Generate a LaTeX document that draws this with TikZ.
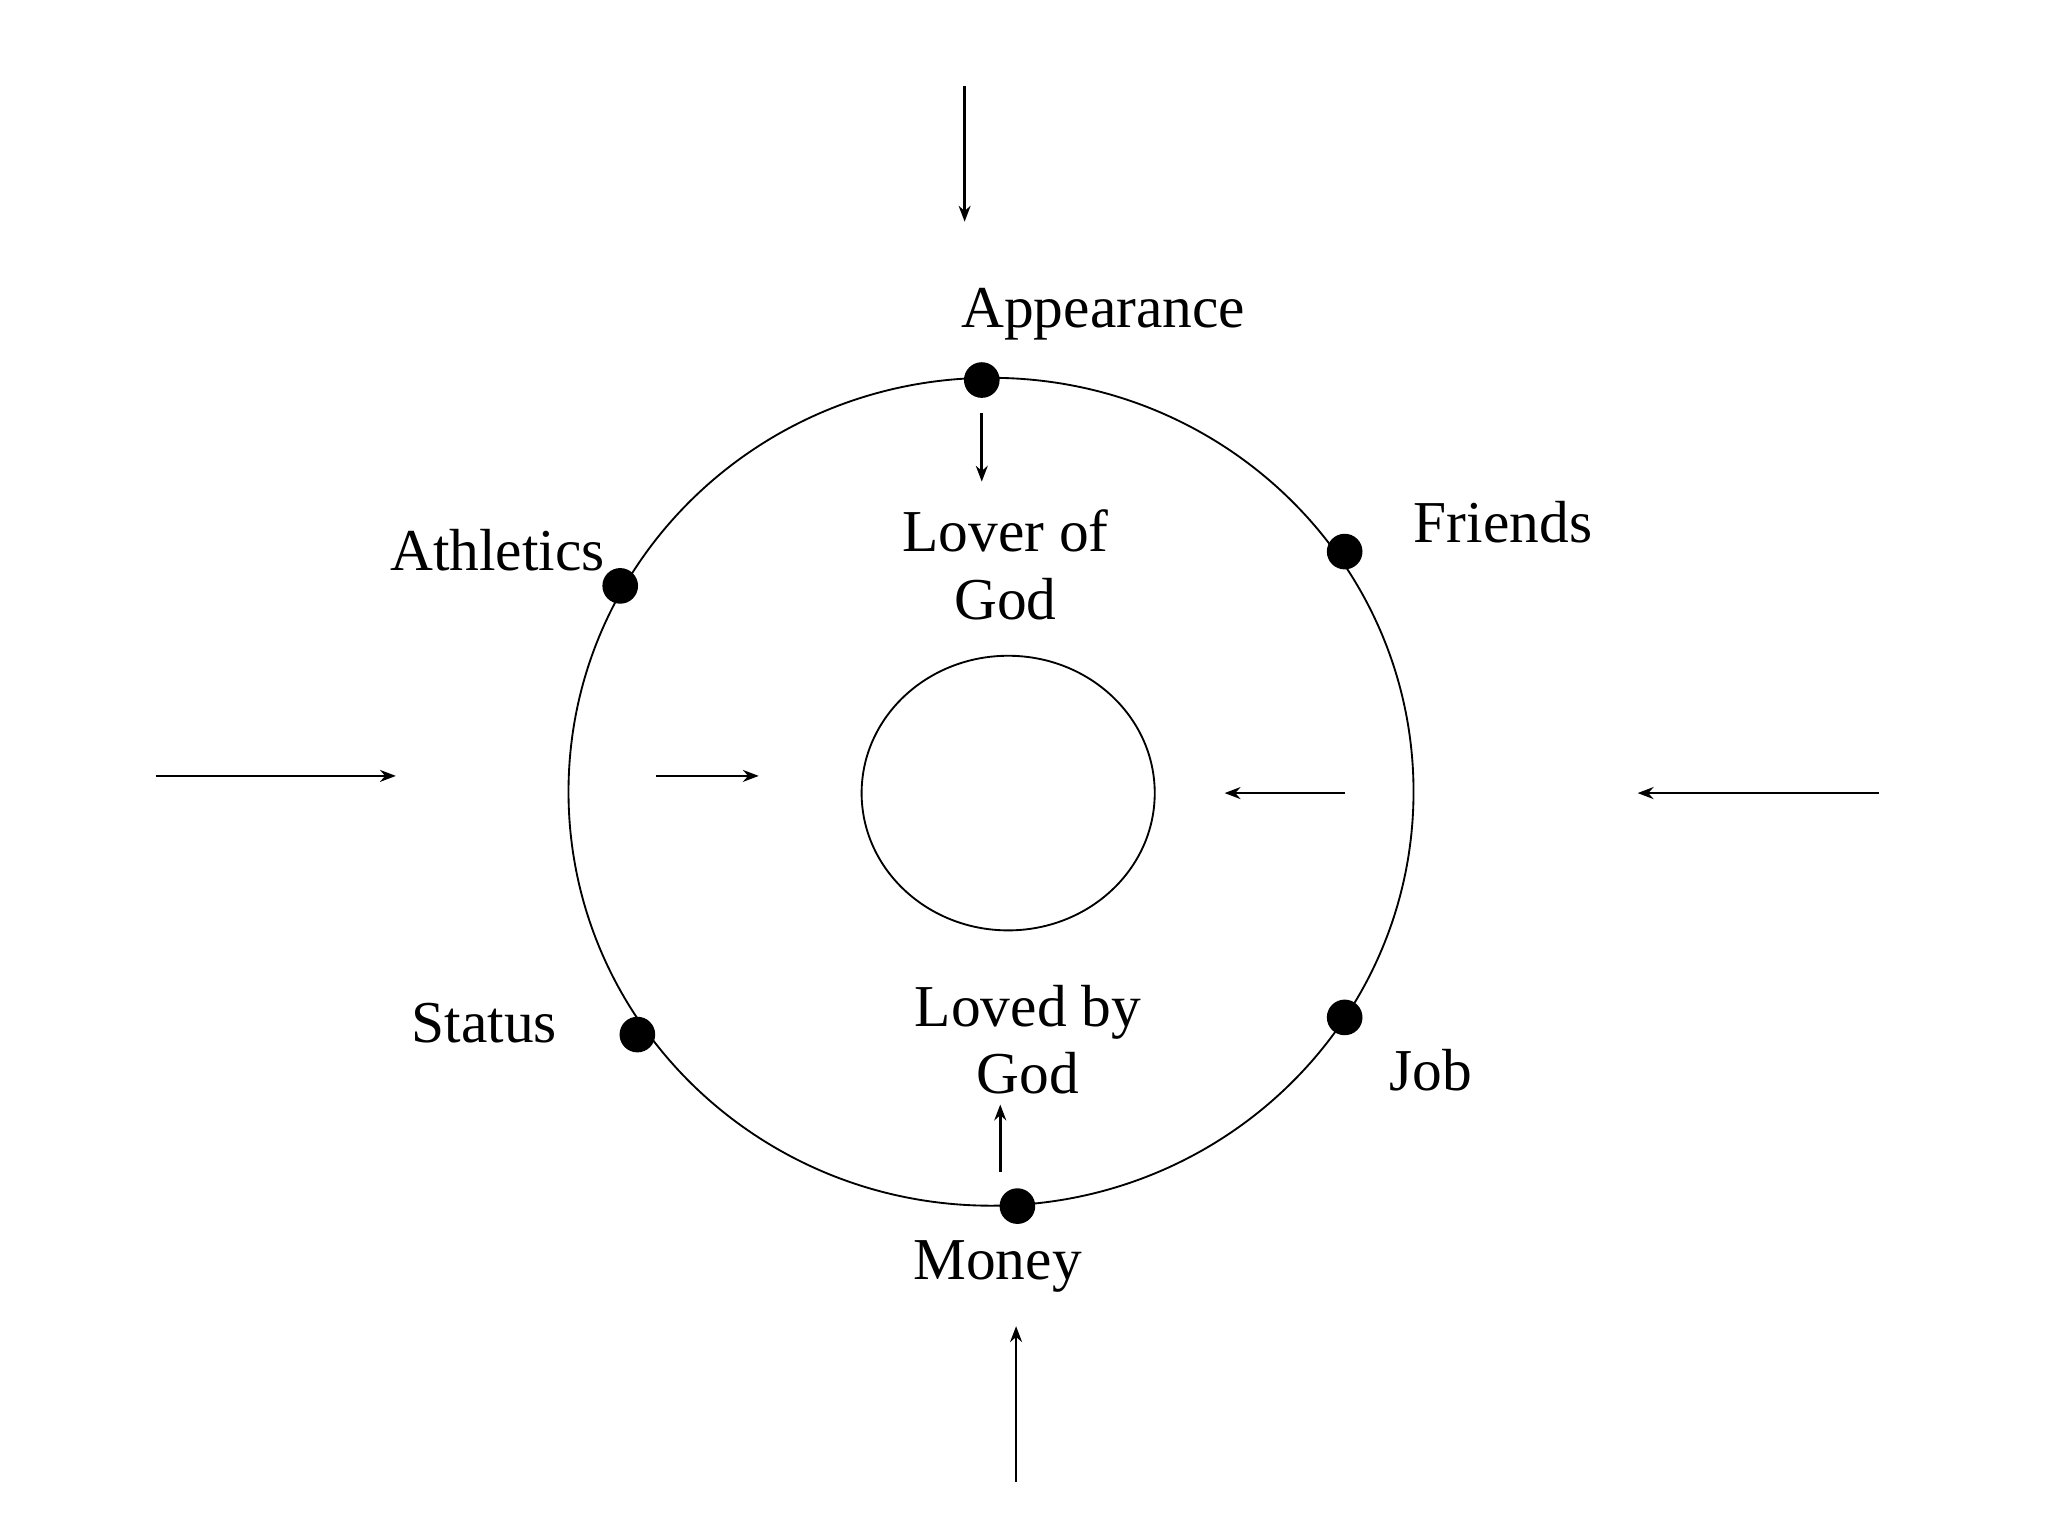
\documentclass[tikz,border=0pt]{standalone}
\usepackage{fontspec}
\setmainfont{Liberation Serif}
\usetikzlibrary{arrows.meta,shapes.geometric}
\begin{document}
\begin{tikzpicture}[x=0.01cm,y=-0.01cm,
  lab/.style={font=\fontsize{12.8}{14.5}\selectfont,align=center,inner sep=0},
  dot/.style={circle,fill=black,minimum size=0.27cm,inner sep=0},
  arr/.style={-{Stealth[length=0.12cm,width=0.09cm]},line width=0.6pt}]
\useasboundingbox (0,0) rectangle (1552,1164);
\node[draw,ellipse,minimum width=6.4cm,minimum height=6.27cm,inner sep=0] (outer) at (751,600) {};
\node[draw,ellipse,minimum width=2.22cm,minimum height=2.08cm,inner sep=0] (inner) at (764,601) {};
\node[dot] (d1) at (744,288) {};
\node[dot] (d2) at (1019,418) {};
\node[dot] (d3) at (470,444) {};
\node[dot] (d4) at (483,784) {};
\node[dot] (d5) at (1019,771) {};
\node[dot] (d6) at (771,914) {};
\node[lab] (appearance) at (836,238) {Appearance};
\node[lab] (lover) at (762,428) {Lover of\\God};
\node[lab] (friends) at (1139,396) {Friends};
\node[lab] (athletics) at (377,417) {Athletics};
\node[lab] (status) at (367,775) {Status};
\node[lab] (loved) at (779,788) {Loved by\\God};
\node[lab] (job) at (1084,811) {Job};
\node[lab] (money) at (756,960) {Money};
\coordinate (a1s) at (731,65); \coordinate (a1e) at (731,168);
\coordinate (a2s) at (744,313); \coordinate (a2e) at (744,365);
\coordinate (a3s) at (118,588); \coordinate (a3e) at (300,588);
\coordinate (a4s) at (497,588); \coordinate (a4e) at (575,588);
\coordinate (a5s) at (1019,601); \coordinate (a5e) at (928,601);
\coordinate (a6s) at (1424,601); \coordinate (a6e) at (1241,601);
\coordinate (a7s) at (758,888); \coordinate (a7e) at (758,837);
\coordinate (a8s) at (770,1123); \coordinate (a8e) at (770,1005);
\foreach \i in {1,...,8} \draw[arr] (a\i s) -- (a\i e);
\end{tikzpicture}
\end{document}
